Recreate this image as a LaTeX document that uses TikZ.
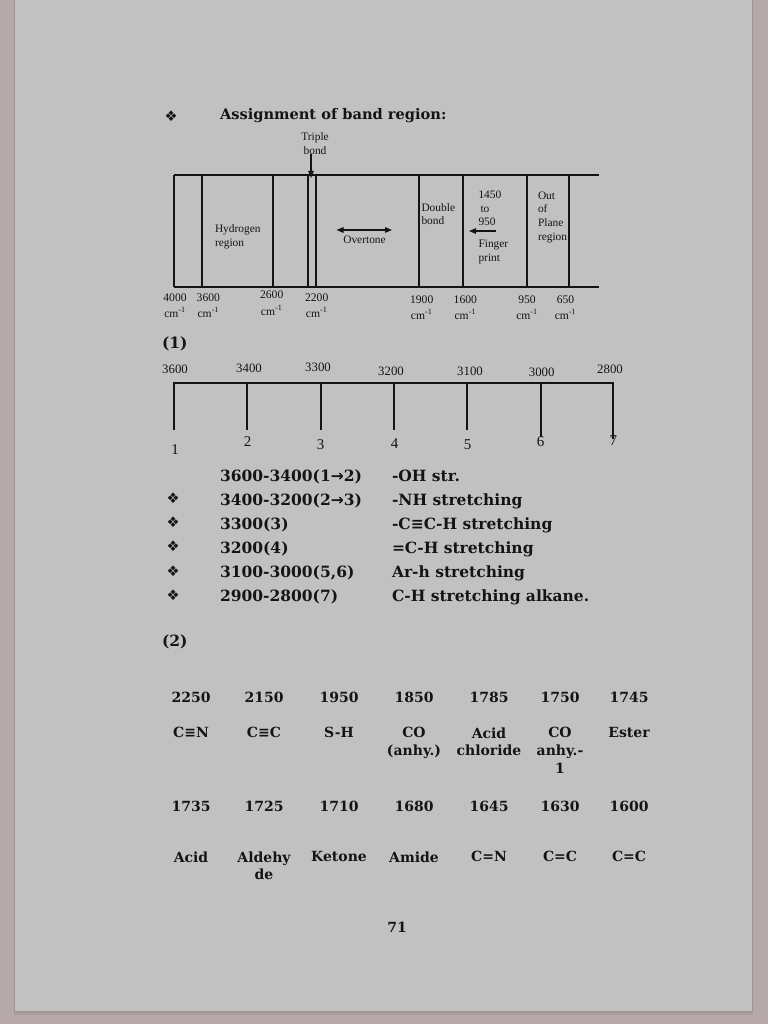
\documentclass[tikz,border=0pt]{standalone}
\usepackage{fontspec}
\setmainfont{DejaVu Serif}
\newfontfamily\tms{Liberation Serif}
\newfontfamily\orn{DejaVu Sans}
\usetikzlibrary{arrows.meta}
\definecolor{pagebg}{HTML}{C1C1C1}
\definecolor{outerbg}{HTML}{B7A9A9}
\definecolor{pageedge}{HTML}{9A9494}
\definecolor{shadowc}{HTML}{A89C9C}
\definecolor{ink}{HTML}{141414}
\newcommand\eqv{{\orn ≡}}
\newcommand\rarr{{\orn →}}
\begin{document}
\begin{tikzpicture}[x=1pt,y=-1pt,
  every node/.style={inner sep=0pt, outer sep=0pt, text=ink},
  head/.style={font=\bfseries\fontsize{14.6}{18}\selectfont, anchor=base west},
  ornament/.style={font=\orn\fontsize{14.5}{14.5}\selectfont},
  lbl/.style={font=\tms\fontsize{11.4}{13.7}\selectfont, align=left, anchor=north west},
  lblc/.style={font=\tms\fontsize{11.4}{13.7}\selectfont, align=center, anchor=north},
  axlbl/.style={font=\tms\fontsize{11.6}{14}\selectfont, anchor=base},
  numlbl/.style={font=\tms\fontsize{12.8}{14}\selectfont, anchor=base},
  idxlbl/.style={font=\tms\fontsize{15}{16}\selectfont, anchor=base},
  item/.style={font=\bfseries\fontsize{15.5}{18}\selectfont, anchor=base west},
  tnum/.style={font=\bfseries\fontsize{14}{16}\selectfont, anchor=base},
  tlab/.style={font=\bfseries\fontsize{14}{17.6}\selectfont, align=center, anchor=north},
  band/.style={line width=1.5pt, draw=ink},
  arr/.style={line width=1.2pt, draw=ink, -{Triangle[length=7pt,width=5.5pt]}},
  darr/.style={line width=1.2pt, draw=ink, {Triangle[length=7pt,width=5.5pt]}-{Triangle[length=7pt,width=5.5pt]}},
]
\useasboundingbox (0,0) rectangle (768,1024);
\fill[outerbg] (0,0) rectangle (768,1024);
\fill[shadowc] (14,1008) rectangle (753,1015);
\filldraw[fill=pagebg, draw=pageedge, line width=0.8pt] (14,-2) rectangle (752,1011);

% heading
\node[ornament] (h0) at (171,116) {❖};
\node[head] (h1) at (220,120) {Assignment of band region:};

% band region diagram
\draw[band] (174,175) -- (599,175);
\draw[band] (174,287) -- (599,287);
\foreach \x in {174,202,273,308,316,419,463,527,569}
  \draw[band] (\x,175) -- (\x,287);

\node[lblc] (triple) at (315,132.7) {Triple\\bond};
\coordinate (tbtip) at (311,178);
\draw[arr] (triple.south -| tbtip) -- (tbtip);

\node[lbl] (hyd) at (215,225) {Hydrogen\\region};
\node[lblc] (over) at (364.5,236) {Overtone};
\coordinate (ovl) at (336.5,230);
\coordinate (ovr) at (392,230);
\draw[darr] (ovl) -- (ovr);

\node[lbl] (dbl) at (421.5,203.3) {Double\\bond};
\node[lbl] (fp1) at (478.5,191) {1450\\\hspace*{2pt}to\\950};
\coordinate (fpa) at (496,231);
\coordinate (fpb) at (469,231);
\draw[arr] (fpa) -- (fpb);
\node[lbl] (fp2) at (478.5,240) {Finger\\print};
\node[lbl] (oop) at (538,191.7) {Out\\of\\Plane\\region};

\node[axlbl] (w1) at (175,301) {4000};
\node[axlbl] (w2) at (208.3,301) {3600};
\node[axlbl] (w3) at (271.7,298.5) {2600};
\node[axlbl] (w4) at (316.7,301) {2200};
\node[axlbl] (w5) at (421.7,303) {1900};
\node[axlbl] (w6) at (465.3,303) {1600};
\node[axlbl] (w7) at (527,303) {950};
\node[axlbl] (w8) at (565.5,303) {650};
\node[axlbl] (c1) at (175,317) {cm\textsuperscript{-1}};
\node[axlbl] (c2) at (208.3,317) {cm\textsuperscript{-1}};
\node[axlbl] (c3) at (271.7,315) {cm\textsuperscript{-1}};
\node[axlbl] (c4) at (316.7,317) {cm\textsuperscript{-1}};
\node[axlbl] (c5) at (421.7,319) {cm\textsuperscript{-1}};
\node[axlbl] (c6) at (465.3,319) {cm\textsuperscript{-1}};
\node[axlbl] (c7) at (527,319) {cm\textsuperscript{-1}};
\node[axlbl] (c8) at (565.5,319) {cm\textsuperscript{-1}};

% (1)
\node[item] (p1) at (162,348) {(1)};
\draw[band] (174,430) -- (174,383) -- (613,383) -- (613,439);
\foreach \x/\e in {247/430,321/430,394/430,467/430,541/437}
  \draw[band] (\x,383) -- (\x,\e);
\node[numlbl] (n1) at (175,373) {3600};
\node[numlbl] (n2) at (249,372.7) {3400};
\node[numlbl] (n3) at (318,371) {3300};
\node[numlbl] (n4) at (391,375) {3200};
\node[numlbl] (n5) at (470,375) {3100};
\node[numlbl] (n6) at (541.7,376.7) {3000};
\node[numlbl] (n7) at (610,373.3) {2800};
\node[idxlbl] (i1) at (175,454) {1};
\node[idxlbl] (i2) at (247.7,446.7) {2};
\node[idxlbl] (i3) at (320.7,449.3) {3};
\node[idxlbl] (i4) at (394.7,448) {4};
\node[idxlbl] (i5) at (467.7,449) {5};
\node[idxlbl] (i6) at (540.7,446.7) {6};
\node[idxlbl] (i7) at (613.3,445.7) {7};

% list
\node[item] (a1) at (220,481) {3600-3400(1\rarr2)};
\node[item] (b1) at (392,481) {-OH str.};
\node[ornament] (d2) at (173,498.5) {❖};
\node[item] (a2) at (220,505) {3400-3200(2\rarr3)};
\node[item] (b2) at (392,505) {-NH stretching};
\node[ornament] (d3) at (173,522.5) {❖};
\node[item] (a3) at (220,529) {3300(3)};
\node[item] (b3) at (392,529) {-C\eqv C-H stretching};
\node[ornament] (d4) at (173,546.5) {❖};
\node[item] (a4) at (220,553) {3200(4)};
\node[item] (b4) at (392,553) {=C-H stretching};
\node[ornament] (d5) at (173,571) {❖};
\node[item] (a5) at (220,577.5) {3100-3000(5,6)};
\node[item] (b5) at (392,577.5) {Ar-h stretching};
\node[ornament] (d6) at (173,595) {❖};
\node[item] (a6) at (220,601.5) {2900-2800(7)};
\node[item] (b6) at (392,601.5) {C-H stretching alkane.};

% (2)
\node[item] (p2) at (162,646) {(2)};
\node[tnum] (r1c1) at (191,702) {2250};
\node[tnum] (r1c2) at (264,702) {2150};
\node[tnum] (r1c3) at (339,702) {1950};
\node[tnum] (r1c4) at (414,702) {1850};
\node[tnum] (r1c5) at (489,702) {1785};
\node[tnum] (r1c6) at (560,702) {1750};
\node[tnum] (r1c7) at (629,702) {1745};
\node[tlab] (r2c1) at (191,727.5) {C\eqv N};
\node[tlab] (r2c2) at (264,727.5) {C\eqv C};
\node[tlab] (r2c3) at (339,727.5) {S-H};
\node[tlab] (r2c4) at (414,727.5) {CO\\(anhy.)};
\node[tlab] (r2c5) at (489,727.5) {Acid\\chloride};
\node[tlab] (r2c6) at (560,727.5) {CO\\anhy.-\\1};
\node[tlab] (r2c7) at (629,727.5) {Ester};
\node[tnum] (r3c1) at (191,811) {1735};
\node[tnum] (r3c2) at (264,811) {1725};
\node[tnum] (r3c3) at (339,811) {1710};
\node[tnum] (r3c4) at (414,811) {1680};
\node[tnum] (r3c5) at (489,811) {1645};
\node[tnum] (r3c6) at (560,811) {1630};
\node[tnum] (r3c7) at (629,811) {1600};
\node[tlab] (r4c1) at (191,851.5) {Acid};
\node[tlab] (r4c2) at (264,851.5) {Aldehy\\de};
\node[tlab] (r4c3) at (339,851.5) {Ketone};
\node[tlab] (r4c4) at (414,851.5) {Amide};
\node[tlab] (r4c5) at (489,851.5) {C=N};
\node[tlab] (r4c6) at (560,851.5) {C=C};
\node[tlab] (r4c7) at (629,851.5) {C=C};

\node[tnum] (pg) at (397,932.5) {71};
\end{tikzpicture}
\end{document}
